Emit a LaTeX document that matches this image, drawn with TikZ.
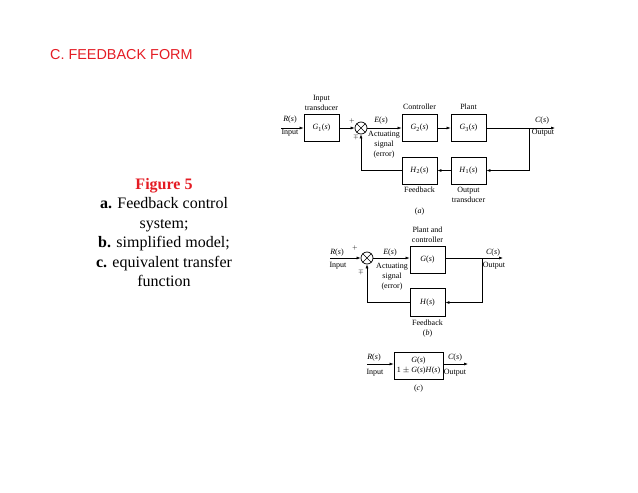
\documentclass[tikz,border=0pt]{standalone}
\usepackage{fontspec}
\setmainfont{Liberation Serif}
\newfontfamily\titlefont{Liberation Sans}
\usetikzlibrary{arrows.meta}
\definecolor{slidered}{RGB}{228,28,36}
\tikzset{x=1pt, y=-1pt,
     block box/.style={draw, line width=0.9pt, minimum width=35pt,
           minimum height=27pt, inner sep=0pt, align=center,
           font=\fontsize{8}{10}\selectfont},
     sum junction/.style={draw, line width=0.7pt, circle, minimum size=12pt,
           inner sep=0pt},
     signal label/.style={font=\fontsize{8}{10}\selectfont, align=center,
           inner sep=0pt},
     sign label/.style={font=\fontsize{6}{7}\selectfont, inner sep=0pt},
     signal line/.style={draw, line width=0.6pt, -{Latex[length=4pt,width=3pt]}}
     }
\def\Tf#1#2{\textit{#1}\textsubscript{#2}(\textit{s})}
\def\Sg#1{\textit{#1}(\textit{s})}
\def\SumNode#1#2{%
 \node[sum junction] (#1) at #2 {};
 \draw[line width=0.6pt] (#1.north west) -- (#1.south east)
   (#1.north east) -- (#1.south west);
}

\begin{document}
\begin{tikzpicture}
\useasboundingbox (0,0) rectangle (638,493);
% left side text
\node[anchor=west, inner sep=0pt, text=slidered,
  font=\titlefont\fontsize{14.4}{16}\selectfont] (title) at (50,55) {C. FEEDBACK FORM};
\node[align=center, inner sep=0pt, font=\fontsize{16}{19.5}\selectfont] (caption)
  at (164,232.5) {\textcolor{slidered}{\textbf{Figure 5}}\\
  \textbf{a.} Feedback control\\ system;\\ \textbf{b.} simplified model;\\
  \textbf{c.} equivalent transfer\\ function};

% (a) feedback control system
\coordinate (ra) at (281,128);
\node[block box] (g1) at (321.5,128) {\Tf{G}{1}};
\SumNode{sa}{(361,128)}
\node[block box] (g2) at (419.5,128) {\Tf{G}{2}};
\node[block box] (g3) at (468.5,128) {\Tf{G}{3}};
\coordinate (ba) at (529,128);
\coordinate (ca) at (555,128);
\node[block box] (h1) at (468.5,170.5) {\Tf{H}{1}};
\node[block box] (h2) at (419.5,170.5) {\Tf{H}{2}};
\draw[signal line] (ra) -- (g1);
\draw[signal line] (g1) -- (sa);
\draw[signal line] (sa) -- (g2);
\draw[signal line] (g2) -- (g3);
\draw[signal line] (g3) -- (ca);
\draw[signal line] (ba) |- (h1);
\draw[signal line] (h1) -- (h2);
\draw[signal line] (h2) -| (sa);
\node[signal label] (ra name) at (290,120) {\Sg{R}};
\node[signal label] (ra input) at (290,133) {Input};
\node[signal label] (g1 name) at (321.5,103) {Input\\transducer};
\node[sign label] (sa plus) at (352,121) {$+$};
\node[sign label] (sa minus) at (356,137) {$\mp$};
\node[signal label] (ea name) at (381,121) {\Sg{E}};
\node[signal label] (ea text) at (384,144.5) {Actuating\\signal\\(error)};
\node[signal label] (g2 name) at (419.5,107) {Controller};
\node[signal label] (g3 name) at (468.5,107) {Plant};
\node[signal label] (ca name) at (542,121) {\Sg{C}};
\node[signal label] (ca output) at (543,133) {Output};
\node[signal label] (h2 name) at (419.5,190) {Feedback};
\node[signal label] (h1 name) at (468.5,195) {Output\\transducer};
\node[signal label] (cap a) at (419.5,212) {(\textit{a})};

% (b) simplified model
\coordinate (rb) at (330,258);
\SumNode{sb}{(367,258)}
\node[block box] (gb) at (427.5,259.5) {\Sg{G}};
\coordinate (bb) at (482,258);
\coordinate (cb) at (503,258);
\node[block box, minimum height=28pt] (hb) at (427.5,302.5) {\Sg{H}};
\draw[signal line] (rb) -- (sb);
\draw[signal line] (sb) -- (sb -| gb.west);
\draw[signal line] (gb.east |- bb) -- (cb);
\draw[signal line] (bb) |- (hb);
\draw[signal line] (hb) -| (sb);
\node[signal label] (rb name) at (337,253) {\Sg{R}};
\node[signal label] (rb input) at (338,266) {Input};
\node[sign label] (sb plus) at (355,248) {$+$};
\node[sign label] (sb minus) at (361,272) {$\mp$};
\node[signal label] (eb name) at (390,253) {\Sg{E}};
\node[signal label] (eb text) at (392,276.5) {Actuating\\signal\\(error)};
\node[signal label] (gb name) at (427.5,235) {Plant and\\controller};
\node[signal label] (cb name) at (493,253) {\Sg{C}};
\node[signal label] (cb output) at (494,266) {Output};
\node[signal label] (hb name) at (427.5,323) {Feedback};
\node[signal label] (cap b) at (427.5,334) {(\textit{b})};

% (c) equivalent transfer function
\coordinate (rc) at (367,364);
\node[block box, minimum width=49pt] (gc) at (418.5,365.5)
  {\Sg{G}\\1 $\pm$ \Sg{G}\Sg{H}};
\coordinate (cc) at (468,364);
\draw[signal line] (rc) -- (rc -| gc.west);
\draw[signal line] (gc.east |- cc) -- (cc);
\node[signal label] (rc name) at (374,358) {\Sg{R}};
\node[signal label] (rc input) at (375,373) {Input};
\node[signal label] (cc name) at (455,358) {\Sg{C}};
\node[signal label] (cc output) at (455,373) {Output};
\node[signal label] (cap c) at (418.5,389) {(\textit{c})};
\end{tikzpicture}
\end{document}
